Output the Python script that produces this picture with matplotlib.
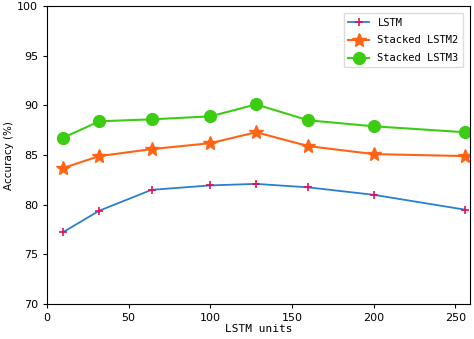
import matplotlib
matplotlib.use("Agg")
import matplotlib.pyplot as plt

units = [10, 32, 64, 100, 128, 160, 200, 256]
lstm = [77.25, 79.4, 81.5, 81.95, 82.1, 81.75, 81.0, 79.5]
stacked2 = [83.7, 84.9, 85.6, 86.2, 87.3, 85.9, 85.1, 84.9]
stacked3 = [86.75, 88.4, 88.6, 88.9, 90.1, 88.5, 87.9, 87.3]

fig = plt.figure(figsize=(4.74, 3.39), dpi=100)
ax = fig.add_axes([0.099, 0.103, 0.893, 0.879])

ax.plot(units, lstm, color='#2a7fd4', linewidth=1.3, marker='+', markersize=6,
        markeredgecolor='#e0105a', markeredgewidth=1.2, label='LSTM')
ax.plot(units, stacked2, color='#ff6414', linewidth=1.5, marker='*', markersize=10,
        label='Stacked LSTM2')
ax.plot(units, stacked3, color='#3ccc14', linewidth=1.5, marker='o', markersize=8.5,
        label='Stacked LSTM3')

ax.set_xlim(0, 259)
ax.set_ylim(70, 100)
ax.set_xticks([0, 50, 100, 150, 200, 250])
ax.set_yticks([70, 75, 80, 85, 90, 95, 100])
ax.tick_params(labelsize=8, length=3)
ax.set_xlabel("LSTM units", fontsize=8, family='DejaVu Sans Mono', labelpad=1)
ax.set_ylabel("Accuracy (%)", fontsize=7.5, labelpad=2)

leg = ax.legend(loc='upper right', prop={'family': 'DejaVu Sans Mono', 'size': 7.5},
                fancybox=False, framealpha=1, edgecolor='#dddddd',
                labelspacing=0.75, borderaxespad=0.7)

fig.savefig("out.png", dpi=100)
